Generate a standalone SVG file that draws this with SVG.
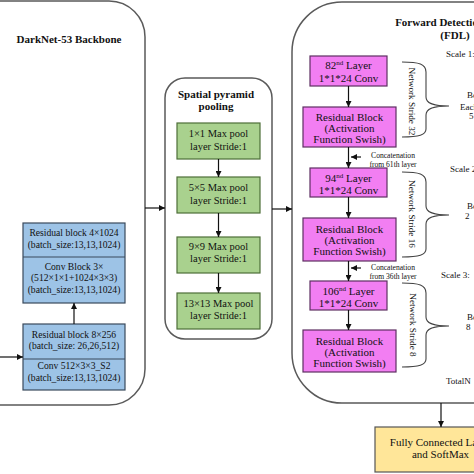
<svg xmlns="http://www.w3.org/2000/svg" width="474" height="474" viewBox="0 0 474 474">
<defs>
<marker id="ah" viewBox="0 0 10 10" refX="10" refY="5" markerWidth="6" markerHeight="6" markerUnits="userSpaceOnUse" orient="auto">
<path d="M0,0 L10,5 L0,10 z" fill="#111"/>
</marker>
<style>
text{font-family:"Liberation Serif","Times New Roman",serif;fill:#111;}
.cont{fill:#fff;stroke:#5a5a5a;stroke-width:1.5;}
.title{font-weight:bold;font-size:11px;text-anchor:middle;}
.blue{fill:#9dc3e6;stroke:#3a4a5c;stroke-width:1.2;}
.green{fill:#a9d18e;stroke:#4e6e38;stroke-width:1.2;}
.mag{fill:#f27ef2;stroke:#5e2f62;stroke-width:1.2;}
.yel{fill:#ffe699;stroke:#555;stroke-width:1.2;}
.bt{font-size:9.6px;text-anchor:middle;}
.gt{font-size:10.5px;text-anchor:middle;}
.mt{font-size:11px;text-anchor:middle;}
.ct{font-size:7.6px;text-anchor:middle;}
.st{font-size:9.2px;text-anchor:middle;}
.rt{font-size:9px;}
.line{stroke:#111;stroke-width:1.2;fill:none;}
.brace{stroke:#444;stroke-width:1.1;fill:none;}
</style>
</defs>
<rect width="474" height="474" fill="#fff"/>

<g id="darknet">
<rect class="cont" x="-60" y="1" width="205" height="404" rx="36"/>
<text class="title" x="69" y="43">DarkNet-53 Backbone</text>
</g>
<g id="blue-block-1">
<rect class="blue" x="23" y="223" width="102" height="80"/>
<line x1="23" y1="257" x2="125" y2="257" stroke="#3a4a5c" stroke-width="1.2"/>
<text class="bt" x="74" y="236">Residual block 4×1024</text>
<text class="bt" x="74" y="247.5">(batch_size:13,13,1024)</text>
<text class="bt" x="74" y="269.5">Conv Block 3×</text>
<text class="bt" x="74" y="280.5">(512×1×1+1024×3×3)</text>
<text class="bt" x="74" y="292.5">(batch_size:13,13,1024)</text>
</g>
<g id="blue-block-2">
<rect class="blue" x="23" y="324" width="102" height="66"/>
<line x1="23" y1="359" x2="125" y2="359" stroke="#3a4a5c" stroke-width="1.2"/>
<text class="bt" x="74" y="337.5">Residual block 8×256</text>
<text class="bt" x="74" y="349">(batch_size: 26,26,512)</text>
<text class="bt" x="74" y="369">Conv 512×3×3_S2</text>
<text class="bt" x="74" y="380.5">(batch_size:13,13,1024)</text>
</g>

<g id="spp">
<rect class="cont" x="165" y="78" width="107" height="261" rx="20"/>
<text class="title" x="216" y="98">Spatial pyramid</text>
<text class="title" x="216" y="110">pooling</text>
</g>
<g id="pool-1">
<rect class="green" x="177" y="123" width="83" height="36"/>
<text class="gt" x="218.5" y="137">1×1 Max pool</text>
<text class="gt" x="218.5" y="150">layer Stride:1</text>
</g>
<g id="pool-5">
<rect class="green" x="177" y="177" width="83" height="36"/>
<text class="gt" x="218.5" y="190.5">5×5 Max pool</text>
<text class="gt" x="218.5" y="204">layer Stride:1</text>
</g>
<g id="pool-9">
<rect class="green" x="177" y="237" width="83" height="36"/>
<text class="gt" x="218.5" y="250">9×9 Max pool</text>
<text class="gt" x="218.5" y="261.5">layer Stride:1</text>
</g>
<g id="pool-13">
<rect class="green" x="177" y="293" width="83" height="36"/>
<text class="gt" x="218.5" y="306.5">13×13 Max pool</text>
<text class="gt" x="218.5" y="318.5">layer Stride:1</text>
</g>

<g id="fdl">
<rect class="cont" x="292" y="2" width="260" height="401" rx="50"/>
<text class="title" x="455" y="26">Forward Detection Layer</text>
<text class="title" x="455" y="39">(FDL)</text>
<text class="rt" x="446" y="57">Scale 1:</text>
<text class="rt" x="467" y="98">Box</text>
<text class="rt" x="460" y="110">Each</text>
<text class="rt" x="469" y="119">5</text>
<text class="rt" x="450" y="172">Scale 2:</text>
<text class="rt" x="467" y="209">Box</text>
<text class="rt" x="465" y="219">2</text>
<text class="rt" x="441" y="278">Scale 3:</text>
<text class="rt" x="467" y="320">Box</text>
<text class="rt" x="466" y="330">8</text>
<text class="rt" x="446" y="384">TotalN</text>
</g>
<g id="layer-82">
<rect class="mag" x="310" y="56" width="77" height="30"/>
<text class="mt" x="348.5" y="69">82<tspan font-size="7" dy="-4">nd</tspan><tspan dy="4"> Layer</tspan></text>
<text class="mt" x="348.5" y="81.5">1*1*24 Conv</text>
</g>
<g id="res-32">
<rect class="mag" x="303" y="107" width="93" height="40"/>
<text class="mt" x="349.5" y="120.5">Residual Block</text>
<text class="mt" x="349.5" y="131.5">(Activation</text>
<text class="mt" x="349.5" y="142.5">Function Swish)</text>
</g>
<g id="layer-94">
<rect class="mag" x="310" y="168" width="77" height="29"/>
<text class="mt" x="348.5" y="181.5">94<tspan font-size="7" dy="-4">nd</tspan><tspan dy="4"> Layer</tspan></text>
<text class="mt" x="348.5" y="194">1*1*24 Conv</text>
</g>
<g id="res-16">
<rect class="mag" x="303" y="218" width="93" height="43"/>
<text class="mt" x="349.5" y="232.5">Residual Block</text>
<text class="mt" x="349.5" y="243.5">(Activation</text>
<text class="mt" x="349.5" y="254.5">Function Swish)</text>
</g>
<g id="layer-106">
<rect class="mag" x="310" y="281" width="77" height="29"/>
<text class="mt" x="348.5" y="294.5">106<tspan font-size="7" dy="-4">nd</tspan><tspan dy="4"> Layer</tspan></text>
<text class="mt" x="348.5" y="307">1*1*24 Conv</text>
</g>
<g id="res-8">
<rect class="mag" x="303" y="330" width="93" height="42"/>
<text class="mt" x="349.5" y="344.5">Residual Block</text>
<text class="mt" x="349.5" y="355.5">(Activation</text>
<text class="mt" x="349.5" y="366.5">Function Swish)</text>
</g>
<g id="concat-labels">
<text class="ct" x="393" y="157.5">Concatenation</text>
<text class="ct" x="393" y="166.5">from 61th layer</text>
<text class="ct" x="393" y="269.5">Concatenation</text>
<text class="ct" x="393" y="278.5">from 36th layer</text>
</g>
<g id="stride-braces">
<path class="brace" d="M402,62 C419,62 426,64 426,72 L426,97 C426,103 432,106 449,106 C432,106 426,109 426,115 L426,129 C426,135 419,137 402,137"/>
<path class="brace" d="M402,172 C419,172 426,174 426,182 L426,206 C426,212 432,215 449,215 C432,215 426,218 426,224 L426,249 C426,255 419,257 402,257"/>
<path class="brace" d="M402,283 C419,283 426,285 426,293 L426,317 C426,323 432,326 449,326 C432,326 426,329 426,335 L426,359 C426,365 419,367 402,367"/>
<text class="st" transform="translate(412,101.5) rotate(90)" x="0" y="3">Network Stride 32</text>
<text class="st" transform="translate(412,214) rotate(90)" x="0" y="3">Network Stride 16</text>
<text class="st" transform="translate(413,325) rotate(90)" x="0" y="3">Network Stride 8</text>
</g>

<g id="fc-softmax">
<rect class="yel" x="375" y="427" width="130" height="45"/>
<text x="440.5" y="446" font-size="11" text-anchor="middle">Fully Connected Layer</text>
<text x="440.5" y="458" font-size="11" text-anchor="middle">and SoftMax</text>
</g>

<g id="connectors">
<line class="line" x1="0" y1="357" x2="23" y2="357" marker-end="url(#ah)"/>
<line class="line" x1="74" y1="324" x2="74" y2="303" marker-end="url(#ah)"/>
<line class="line" x1="145" y1="208" x2="165" y2="208" marker-end="url(#ah)"/>
<line class="line" x1="218.5" y1="159" x2="218.5" y2="177" marker-end="url(#ah)"/>
<line class="line" x1="218.5" y1="213" x2="218.5" y2="237" marker-end="url(#ah)"/>
<line class="line" x1="218.5" y1="273" x2="218.5" y2="293" marker-end="url(#ah)"/>
<line class="line" x1="272" y1="209" x2="292" y2="209" marker-end="url(#ah)"/>
<line class="line" x1="348.5" y1="86" x2="348.5" y2="107" marker-end="url(#ah)"/>
<line class="line" x1="348.5" y1="147" x2="348.5" y2="168" marker-end="url(#ah)"/>
<line class="line" x1="348.5" y1="197" x2="348.5" y2="218" marker-end="url(#ah)"/>
<line class="line" x1="348.5" y1="261" x2="348.5" y2="281" marker-end="url(#ah)"/>
<line class="line" x1="348.5" y1="310" x2="348.5" y2="330" marker-end="url(#ah)"/>
<line class="line" x1="361" y1="157" x2="351" y2="157" marker-end="url(#ah)"/>
<line class="line" x1="361" y1="268" x2="351" y2="268" marker-end="url(#ah)"/>
<line class="line" x1="441" y1="403" x2="441" y2="427" marker-end="url(#ah)"/>
</g>
</svg>
